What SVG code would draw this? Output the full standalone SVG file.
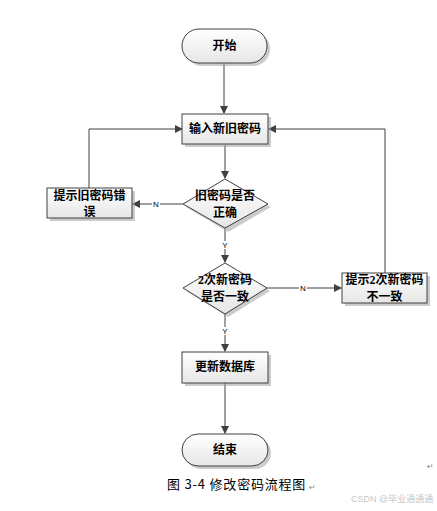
<svg xmlns="http://www.w3.org/2000/svg" width="437" height="511" viewBox="0 0 437 511">
<defs>
<linearGradient id="g" x1="0" y1="0" x2="0" y2="1">
<stop offset="0" stop-color="#ffffff"/>
<stop offset="1" stop-color="#e6e6e6"/>
</linearGradient>
<marker id="ah" markerWidth="8" markerHeight="8" refX="7" refY="4" orient="auto" markerUnits="userSpaceOnUse">
<path d="M0,0 L8,4 L0,8 Z" fill="#404040"/>
</marker>
<style>
.shape{fill:url(#g);stroke:#404040;stroke-width:1}
.shadow{fill:#a0a0a0;opacity:0.55}
.t{font-family:"Liberation Serif","Noto Sans CJK SC",serif;font-size:12px;font-weight:bold;fill:#000;text-anchor:middle;dominant-baseline:central}
.lbl{font-family:"Liberation Sans","Noto Sans CJK SC",sans-serif;font-size:8px;fill:#000;text-anchor:middle;dominant-baseline:central}
.lb{fill:#ffffff}
.c{fill:none;stroke:#404040;stroke-width:1}
.cap{font-family:"Noto Sans CJK SC",sans-serif;font-size:13px;letter-spacing:0.8px;fill:#000}
.mark{font-family:"DejaVu Sans",sans-serif;font-size:8px;fill:#888}
</style>
</defs>
<rect width="437" height="511" fill="#ffffff"/>
<g id="connectors">
<path class="c" d="M224,63 V113" marker-end="url(#ah)"/>
<path class="c" d="M225,145 V178" marker-end="url(#ah)"/>
<path class="c" d="M183,204 H133" marker-end="url(#ah)"/>
<rect class="lb" x="152" y="200" width="8" height="8"/>
<text class="lbl" x="156" y="204">N</text>
<path class="c" d="M89,188 V129 H182" marker-end="url(#ah)"/>
<path class="c" d="M225,228 V262" marker-end="url(#ah)"/>
<rect class="lb" x="221" y="241" width="8" height="8"/>
<text class="lbl" x="225" y="245">Y</text>
<path class="c" d="M267,288 H341" marker-end="url(#ah)"/>
<rect class="lb" x="299" y="284" width="8" height="8"/>
<text class="lbl" x="303" y="288">N</text>
<path class="c" d="M385,273 V129 H269" marker-end="url(#ah)"/>
<path class="c" d="M225,314 V351" marker-end="url(#ah)"/>
<rect class="lb" x="221" y="327" width="8" height="8"/>
<text class="lbl" x="225" y="331">Y</text>
<path class="c" d="M225,383 V433" marker-end="url(#ah)"/>
</g>
<g id="start">
<rect class="shadow" x="185" y="32" width="85" height="34" rx="17"/>
<rect class="shape" x="182" y="29" width="85" height="34" rx="17"/>
<text class="t" x="224.5" y="46">开始</text>
</g>
<g id="input">
<rect class="shadow" x="185" y="117" width="86" height="30"/>
<rect class="shape" x="182" y="114" width="86" height="30"/>
<text class="t" x="225" y="129">输入新旧密码</text>
</g>
<g id="check-old">
<polygon class="shadow" points="228,182 271,207 228,232 186,207"/>
<polygon class="shape" points="225,179 268,204 225,228 183,204"/>
<text class="t" x="225" y="196">旧密码是否</text>
<text class="t" x="225" y="213">正确</text>
</g>
<g id="old-error">
<rect class="shadow" x="50" y="191" width="85" height="30"/>
<rect class="shape" x="47" y="188" width="85" height="30"/>
<text class="t" x="89.5" y="196">提示旧密码错</text>
<text class="t" x="89.5" y="212">误</text>
</g>
<g id="check-new">
<polygon class="shadow" points="228,266 270,291 228,317 186,291"/>
<polygon class="shape" points="225,263 267,288 225,314 183,288"/>
<text class="t" x="225" y="280">2次新密码</text>
<text class="t" x="225" y="297">是否一致</text>
</g>
<g id="new-mismatch">
<rect class="shadow" x="345" y="276" width="85" height="30"/>
<rect class="shape" x="342" y="273" width="85" height="30"/>
<text class="t" x="384.5" y="280">提示2次新密码</text>
<text class="t" x="384.5" y="297">不一致</text>
</g>
<g id="update">
<rect class="shadow" x="185" y="355" width="86" height="31"/>
<rect class="shape" x="182" y="352" width="86" height="31"/>
<text class="t" x="225" y="367">更新数据库</text>
</g>
<g id="end">
<rect class="shadow" x="185" y="437" width="86" height="32" rx="16"/>
<rect class="shape" x="182" y="434" width="86" height="32" rx="16"/>
<text class="t" x="225" y="450">结束</text>
</g>
<text class="cap" x="167" y="489">图 3-4 修改密码流程图</text>
<text class="mark" x="309" y="490">↵</text>
<text class="mark" x="427" y="469">↵</text>
<text x="351" y="502" style="font-family:'Liberation Sans','Noto Sans CJK SC',sans-serif;font-size:9px;fill:#c8c8c8">CSDN @毕业通通通</text>
</svg>
